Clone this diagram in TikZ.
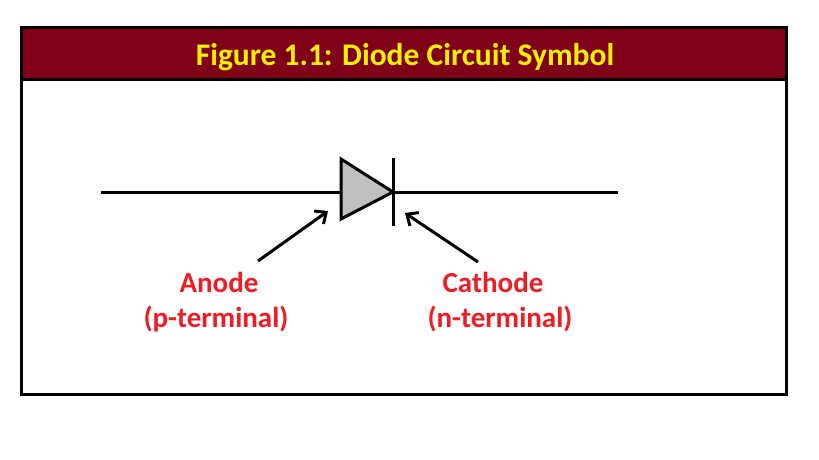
\documentclass[tikz,border=0pt]{standalone}
\usepackage{fontspec}
\setmainfont{Carlito}
\usetikzlibrary{arrows.meta}
\definecolor{hdr}{HTML}{800018}
\definecolor{lbl}{HTML}{EE1C24}
\definecolor{ttl}{HTML}{FFF200}
\begin{document}
\begin{tikzpicture}[x=1pt,y=-1pt,
  wire/.style={line width=3pt},
  arr/.style={line width=3pt,-{Straight Barb[length=9pt,width=16pt]}},
  lab/.style={text=lbl,font=\bfseries\fontsize{29}{35}\selectfont,inner sep=0pt}]
\useasboundingbox (0,0) rectangle (819,460);
\fill[white] (0,0) rectangle (819,460);
\fill[hdr] (21,28) rectangle (786,79);
\draw[line width=3pt] (21,28) rectangle (786,394);
\draw[line width=3pt] (21,79) -- (786,79);
\node (title) at (405,57) {\textcolor{ttl}{\bfseries\fontsize{31.5}{36}\selectfont Figure 1.1: Diode Circuit Symbol}};
\coordinate (l) at (101,192);
\coordinate (a) at (341,192);
\coordinate (k) at (393,192);
\coordinate (r) at (618,192);
\draw[wire] (l) -- (a);
\draw[wire] (k) -- (r);
\filldraw[fill=black!25,line width=3pt,line join=miter] (341,159) -- (393,192) -- (341,219) -- cycle;
\draw[wire] (393,158) -- (393,226);
\node[lab] (an) at (219,282) {Anode};
\node[lab] (ap) at (216,319) {(p-terminal)};
\node[lab] (ca) at (493,282) {Cathode};
\node[lab] (cn) at (500,319) {(n-terminal)};
\coordinate (as) at (258,261);
\coordinate (ae) at (328,211);
\coordinate (cs) at (478,262);
\coordinate (ce) at (405,213);
\draw[arr] (as) -- (ae);
\draw[arr] (cs) -- (ce);
\end{tikzpicture}
\end{document}
